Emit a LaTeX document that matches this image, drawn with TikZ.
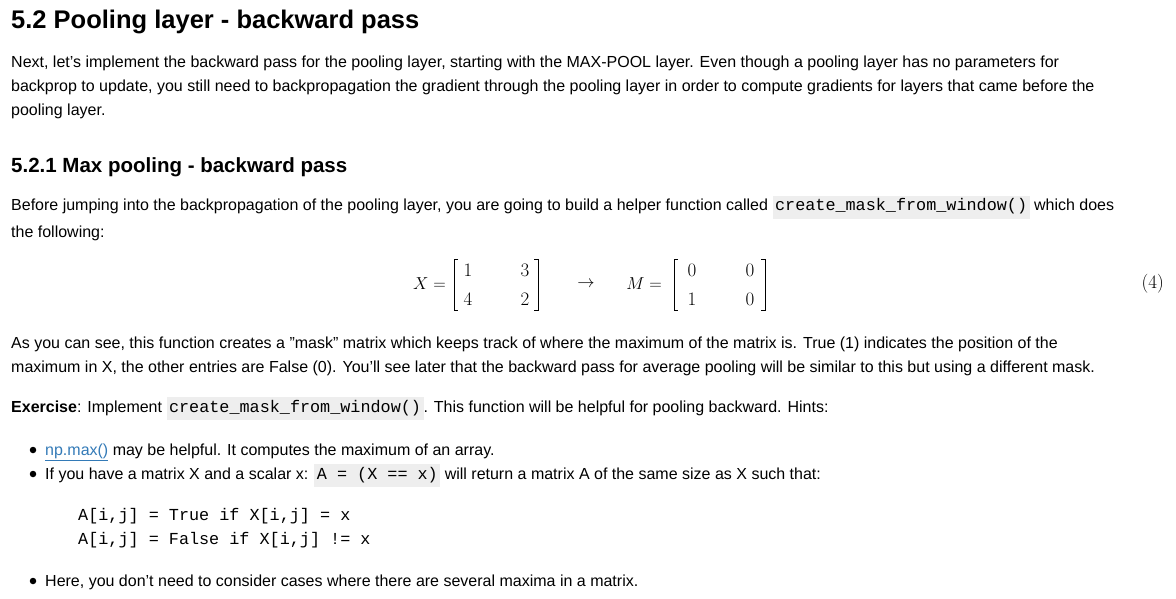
\documentclass[tikz,border=0pt]{standalone}
\usepackage{amsmath}
\usepackage{fontspec}
\setmainfont{Liberation Sans}
\setmonofont{Liberation Mono}
\newfontfamily\lmserif{Latin Modern Roman}
\definecolor{codebg}{HTML}{EEEEEE}
\definecolor{linkc}{HTML}{337AB7}
\newcommand{\mycode}[1]{{\setlength\fboxsep{2.5pt}\colorbox{codebg}{\fontsize{16.8}{18}\ttfamily\strut #1}}}
\tikzset{txt/.style={anchor=base west,inner sep=0pt,font=\fontsize{16}{19}\selectfont},
 h1/.style={anchor=base west,inner sep=0pt,font=\fontsize{25.5}{30}\bfseries},
 h2/.style={anchor=base west,inner sep=0pt,font=\fontsize{20.5}{24}\bfseries},
 mt/.style={inner sep=0pt,font=\fontsize{19}{22}\lmserif},
 bul/.style={circle,fill=black,inner sep=0pt,minimum size=6.5pt}}
\begin{document}
\begin{tikzpicture}[x=1pt,y=-1pt]
\useasboundingbox (0,0) rectangle (1176,599);
\node[h1] (t) at (11,29) {5.2 Pooling layer - backward pass};
\node[txt] (p1) at (11,68) {Next, let's implement the backward pass for the pooling layer, starting with the MAX-POOL layer. Even though a pooling layer has no parameters for};
\node[txt] (p2) at (11,92) {backprop to update, you still need to backpropagation the gradient through the pooling layer in order to compute gradients for layers that came before the};
\node[txt] (p3) at (11,116) {pooling layer.};
\node[h2] (s) at (11,172) {5.2.1 Max pooling - backward pass};
\node[txt] (b1) at (11,211) {Before jumping into the backpropagation of the pooling layer, you are going to build a helper function called \mycode{create\_mask\_from\_window()} which does};
\node[txt] (b2) at (11,237) {the following:};
% equation
\node[mt,anchor=east] (X) at (446,284) {$X =$};
\node[mt] (x11) at (468,270) {1};
\node[mt] (x12) at (525,270) {3};
\node[mt] (x21) at (468,299) {4};
\node[mt] (x22) at (525,299) {2};
\draw[line width=0.9pt] (458,259) -- (454,259) -- (454,310) -- (458,310);
\draw[line width=0.9pt] (534,259) -- (538,259) -- (538,310) -- (534,310);
\node[mt] (ar) at (586,284) {$\rightarrow$};
\node[mt,anchor=east] (M) at (662,284) {$M =$};
\node[mt] (m11) at (692,270) {0};
\node[mt] (m12) at (750,270) {0};
\node[mt] (m21) at (692,299) {1};
\node[mt] (m22) at (750,299) {0};
\draw[line width=0.9pt] (678,259) -- (674,259) -- (674,310) -- (678,310);
\draw[line width=0.9pt] (761,259) -- (765,259) -- (765,310) -- (761,310);
\node[mt,anchor=east] (n4) at (1164,284) {(4)};
\node[txt] (a1) at (11,348) {As you can see, this function creates a "mask" matrix which keeps track of where the maximum of the matrix is. True (1) indicates the position of the};
\node[txt] (a2) at (11,372) {maximum in X, the other entries are False (0). You'll see later that the backward pass for average pooling will be similar to this but using a different mask.};
\node[txt] (e) at (11,412) {\textbf{Exercise}: Implement \mycode{create\_mask\_from\_window()}. This function will be helpful for pooling backward. Hints:};
\node[bul] (d1) at (33,450) {};
\node[txt] (l1) at (45,455) {\textcolor{linkc}{\underline{np.max()}} may be helpful. It computes the maximum of an array.};
\node[bul] (d2) at (33,474) {};
\node[txt] (l2) at (45,479) {If you have a matrix X and a scalar x: \mycode{A = (X == x)} will return a matrix A of the same size as X such that:};
\node[txt,font=\fontsize{16.8}{18}\ttfamily] (c1) at (78,520) {A[i,j] = True if X[i,j] = x};
\node[txt,font=\fontsize{16.8}{18}\ttfamily] (c2) at (78,544) {A[i,j] = False if X[i,j] != x};
\node[bul] (d3) at (33,581) {};
\node[txt] (l3) at (45,586) {Here, you don't need to consider cases where there are several maxima in a matrix.};
\end{tikzpicture}
\end{document}
